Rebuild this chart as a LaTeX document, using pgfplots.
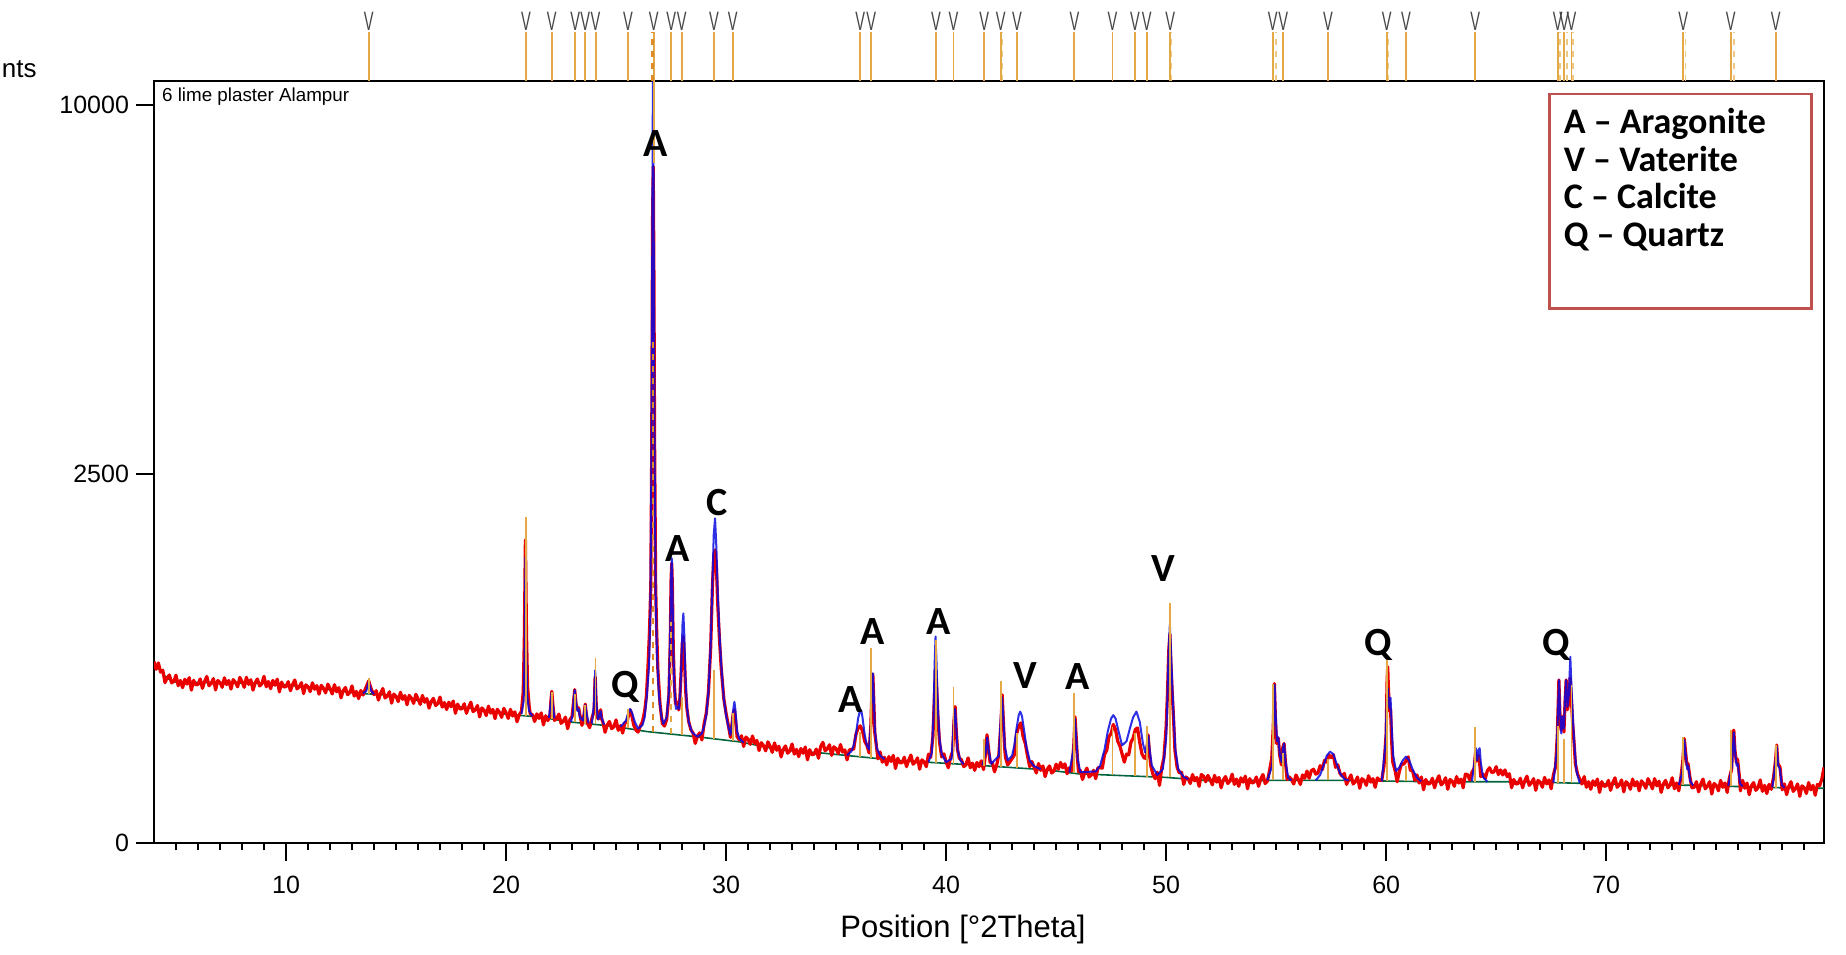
\documentclass[border=0pt]{standalone}
\usepackage{pgfplots}
\pgfplotsset{compat=1.18}
\usepackage{fontspec}
\setmainfont{Liberation Sans}
\newfontfamily\calib{Carlito}

\definecolor{obsred}{RGB}{235,0,0}
\definecolor{calcblue}{RGB}{10,10,225}
\definecolor{bggreen}{RGB}{0,100,60}
\definecolor{stickc}{RGB}{228,168,70}
\definecolor{stickd}{RGB}{222,140,40}
\definecolor{stickl}{RGB}{238,200,130}
\definecolor{legred}{RGB}{192,80,77}
\definecolor{vgray}{RGB}{70,70,70}

% one reference stick from the background (#2) up to its intensity (#3)
\newcommand{\stick}[3]{\addplot[stickc, line width=0.9pt, forget plot] coordinates {(#1,#2) (#1,#3)};}
% one segment of the calculated profile
\newcommand{\calcseg}[1]{\addplot[calcblue, opacity=0.85, line width=1pt, line join=round, forget plot] coordinates {#1};}

\tikzset{pk/.style={font=\calib\bfseries\fontsize{20}{22}\selectfont, inner sep=0pt}}

\begin{document}
\begin{tikzpicture}
\useasboundingbox (0,0) rectangle (923pt,477pt);
\clip (0,0) rectangle (923pt,477pt);

\node[anchor=base east, inner sep=0pt, font=\fontsize{13}{15}\selectfont] at (18.5pt,438pt) {Counts};

\begin{axis}[
  at={(77pt,55.5pt)}, anchor=south west,
  scale only axis, width=835pt, height=381pt,
  xmin=4, xmax=79.9, ymin=0, ymax=10660,
  y coord trafo/.code={\pgfmathparse{sqrt(#1)}},
  y coord inv trafo/.code={\pgfmathparse{(#1)*(#1)}},
  xtick={10,20,30,40,50,60,70},
  minor xtick={5,6,...,79},
  ytick={0,2500,10000},
  yticklabels={0,2500,10000},
  xtick pos=bottom, ytick pos=left,
  tick align=outside,
  major tick length=9pt, minor tick length=3.5pt,
  every tick/.style={black, line width=1pt},
  axis line style={line width=1.35pt},
  tick label style={font=\fontsize{12.5}{14}\selectfont},
  xticklabel style={yshift=-4pt},
  /pgf/number format/assume math mode=true,
  xlabel={Position [°2Theta]},
  xlabel style={font=\fontsize{15.5}{18}\selectfont, at={(axis description cs:0.4844,0)}, anchor=base, yshift=-47.3pt},
]
% background
\addplot[bggreen, line width=0.8pt] coordinates {
(4,590)(4.3,543)(4.6,497)(5,475)(9.4,467)(11.4,441)(13.2,412)(14.4,404)(15.9,376)(17.4,350)(18.9,324)(20.1,303)(21.5,292)(22.9,269)(24.9,250)(26.4,228)(28.7,207)(30.6,188)(32.5,159)(34.3,149)(37.8,125)(41.2,112)(44.6,98)(46,88)(50,79)(52,71)(55,72)(58,72)(62,69)(66,69)(70,64)(74,61)(78,56)(79.9,55)};
% measured pattern
\addplot[obsred, line width=1.6pt, line join=round] coordinates {
(4.0,604)(4.1,554)(4.2,595)(4.3,536)(4.4,548)(4.5,472)(4.6,501)(4.7,518)(4.8,471)(4.9,479)
(5.0,517)(5.1,454)(5.2,485)(5.3,443)(5.4,492)(5.5,464)(5.6,502)(5.7,429)(5.8,486)(5.9,460)
(6.0,461)(6.1,494)(6.2,439)(6.3,479)(6.4,509)(6.5,454)(6.6,468)(6.7,496)(6.8,430)(6.9,485)
(7.0,473)(7.1,445)(7.2,501)(7.3,461)(7.4,485)(7.5,435)(7.6,490)(7.7,474)(7.8,448)(7.9,503)
(8.0,478)(8.1,445)(8.2,504)(8.3,462)(8.4,489)(8.5,429)(8.6,472)(8.7,494)(8.8,453)(8.9,466)
(9.0,510)(9.1,448)(9.2,479)(9.3,437)(9.4,485)(9.5,457)(9.6,493)(9.7,419)(9.8,475)(9.9,447)
(10.0,449)(10.1,478)(10.2,426)(10.3,461)(10.4,488)(10.5,436)(10.6,447)(10.7,472)(10.8,410)(10.9,459)
(11.0,448)(11.1,421)(11.2,471)(11.3,434)(11.4,455)(11.5,407)(11.6,456)(11.7,440)(11.8,414)(11.9,463)
(12.0,439)(12.1,408)(12.2,460)(12.3,420)(12.4,443)(12.5,387)(12.6,426)(12.7,444)(12.8,404)(12.9,415)
(13.0,453)(13.1,396)(13.2,422)(13.3,383)(13.4,427)(13.5,402)(13.6,434)(13.7,464)(13.76,483)(13.8,463)(13.9,427)
(14.0,404)(14.1,426)(14.2,375)(14.3,411)(14.4,438)(14.5,386)(14.6,396)(14.7,420)(14.8,359)(14.9,407)
(15.0,395)(15.1,367)(15.2,417)(15.3,379)(15.4,399)(15.5,351)(15.6,400)(15.7,384)(15.8,358)(15.9,406)
(16.0,381)(16.1,353)(16.2,400)(16.3,364)(16.4,383)(16.5,334)(16.6,368)(16.7,384)(16.8,347)(16.9,357)
(17.0,391)(17.1,339)(17.2,362)(17.3,327)(17.4,364)(17.5,341)(17.6,370)(17.7,309)(17.8,354)(17.9,330)
(18.0,331)(18.1,356)(18.2,309)(18.3,339)(18.4,364)(18.5,317)(18.6,325)(18.7,347)(18.8,292)(18.9,335)
(19.0,324)(19.1,298)(19.2,344)(19.3,310)(19.4,328)(19.5,284)(19.6,328)(19.7,314)(19.8,290)(19.9,333)
(20.0,312)(20.1,285)(20.2,328)(20.3,296)(20.4,316)(20.5,270)(20.6,302)(20.7,318)(20.78,418)(20.83,748)(20.88,1687)(20.93,797)(20.98,447)
(21.05,346)(21.1,305)(21.2,303)(21.3,271)(21.4,306)(21.5,285)(21.6,311)(21.7,256)(21.8,297)(21.9,275)
(22.0,301)(22.04,372)(22.08,422)(22.12,362)(22.2,276)(22.3,284)(22.4,305)(22.5,263)(22.6,271)(22.7,291)(22.8,240)(22.9,279)
(23.0,293)(23.07,367)(23.12,432)(23.18,356)(23.25,326)(23.3,335)(23.36,299)(23.45,254)(23.55,307)(23.6,354)(23.65,302)(23.7,264)(23.8,244)(23.9,285)
(24.0,319)(24.05,506)(24.1,348)(24.15,288)(24.2,283)(24.3,326)(24.35,281)(24.4,269)(24.5,225)(24.6,256)(24.7,271)(24.8,240)(24.9,248)
(25.0,278)(25.1,233)(25.2,253)(25.3,222)(25.4,265)(25.5,270)(25.6,314)(25.65,324)(25.7,308)(25.8,256)(25.9,235)
(26.0,226)(26.1,250)(26.2,271)(26.3,319)(26.38,398)(26.45,568)(26.52,827)(26.58,1226)(26.62,2826)(26.66,7200)(26.69,8400)(26.72,6000)(26.75,3000)(26.8,1200)(26.85,800)(26.9,553)
(27.0,352)(27.1,263)(27.2,251)(27.3,280)(27.4,399)(27.46,719)(27.5,1268)(27.53,1436)(27.56,1218)(27.6,697)(27.65,467)(27.7,356)(27.78,365)(27.85,325)(27.9,384)(27.96,544)
(28.01,733)(28.06,782)(28.11,613)(28.16,432)(28.22,332)(28.3,271)(28.4,236)(28.5,222)(28.6,182)(28.7,210)(28.8,223)(28.9,195)
(29.0,260)(29.1,309)(29.2,420)(29.3,700)(29.38,1211)(29.44,1500)(29.5,1576)(29.56,1400)(29.62,1050)(29.7,760)(29.78,560)(29.9,380)
(30.0,309)(30.1,255)(30.2,205)(30.26,252)(30.33,311)(30.38,326)(30.43,280)(30.5,208)(30.6,195)(30.7,211)(30.8,171)(30.9,206)
(31.0,198)(31.1,179)(31.2,210)(31.3,182)(31.4,193)(31.5,157)(31.6,185)(31.7,174)(31.8,156)(31.9,188)
(32.0,172)(32.1,151)(32.2,184)(32.3,158)(32.4,172)(32.5,136)(32.6,161)(32.7,173)(32.8,148)(32.9,156)
(33.0,180)(33.1,145)(33.2,161)(33.3,137)(33.4,164)(33.5,148)(33.6,169)(33.7,127)(33.8,160)(33.9,143)
(34.0,145)(34.1,162)(34.2,132)(34.3,171)(34.4,186)(34.5,156)(34.6,163)(34.7,177)(34.8,141)(34.9,170)
(35.0,163)(35.1,147)(35.2,178)(35.3,152)(35.4,159)(35.5,127)(35.6,159)(35.7,161)(35.8,162)(35.9,216)
(36.0,242)(36.1,252)(36.2,231)(36.3,190)(36.4,175)(36.5,149)(36.58,254)(36.63,433)(36.67,523)(36.71,383)(36.76,222)(36.85,162)(36.9,130)
(37.0,152)(37.1,120)(37.2,135)(37.3,112)(37.4,137)(37.5,122)(37.6,141)(37.7,102)(37.8,132)(37.9,118)
(38.0,118)(38.1,135)(38.2,107)(38.3,126)(38.4,142)(38.5,114)(38.6,120)(38.7,133)(38.8,100)(38.9,127)
(39.0,121)(39.1,107)(39.2,145)(39.3,135)(39.4,208)(39.46,368)(39.52,558)(39.57,448)(39.63,288)(39.7,187)(39.8,136)(39.9,146)
(40.0,121)(40.1,104)(40.2,133)(40.3,156)(40.36,275)(40.41,342)(40.46,235)(40.52,160)(40.6,132)(40.7,127)(40.8,107)(40.9,112)
(41.0,133)(41.1,104)(41.2,117)(41.3,97)(41.4,119)(41.5,107)(41.6,124)(41.7,99)(41.8,150)(41.86,215)(41.92,169)
(42.0,119)(42.1,119)(42.2,93)(42.3,111)(42.4,145)(42.5,277)(42.55,403)(42.6,277)(42.66,166)(42.7,134)(42.8,112)(42.9,121)
(43.0,131)(43.1,142)(43.2,218)(43.3,250)(43.4,265)(43.5,207)(43.6,182)(43.7,139)(43.8,107)(43.9,122)
(44.0,105)(44.1,90)(44.2,116)(44.3,97)(44.4,109)(44.5,81)(44.6,100)(44.7,109)(44.8,90)(44.9,95)
(45.0,114)(45.1,100)(45.2,119)(45.3,104)(45.4,115)(45.5,88)(45.6,104)(45.7,95)(45.8,170)(45.86,292)(45.91,209)(45.97,129)
(46.02,93)(46.1,97)(46.2,74)(46.3,91)(46.4,103)(46.5,80)(46.6,85)(46.7,97)(46.8,76)(46.9,104)
(47.0,104)(47.1,103)(47.2,144)(47.3,157)(47.4,207)(47.5,220)(47.6,258)(47.7,237)(47.8,190)(47.9,173)
(48.0,145)(48.1,120)(48.2,145)(48.3,143)(48.4,186)(48.5,202)(48.6,237)(48.7,243)(48.8,186)(48.9,146)
(49.0,133)(49.1,131)(49.18,215)(49.24,151)(49.3,110)(49.4,87)(49.5,76)(49.6,92)(49.7,61)(49.8,104)(49.9,134)
(50.0,249)(50.06,409)(50.12,679)(50.17,800)(50.22,579)(50.28,408)(50.34,278)(50.4,157)(50.5,105)(50.6,90)(50.7,92)(50.8,63)(50.9,80)
(51.0,76)(51.1,65)(51.2,86)(51.3,71)(51.4,79)(51.5,59)(51.6,86)(51.7,82)(51.8,69)(51.9,84)
(52.0,74)(52.1,62)(52.2,84)(52.3,68)(52.4,79)(52.5,56)(52.6,73)(52.7,81)(52.8,65)(52.9,70)
(53.0,87)(53.1,63)(53.2,75)(53.3,59)(53.4,78)(53.5,68)(53.6,82)(53.7,54)(53.8,76)(53.9,66)
(54.0,68)(54.1,80)(54.2,59)(54.3,75)(54.4,86)(54.5,65)(54.6,70)(54.7,96)(54.8,132)(54.87,252)(54.92,467)(54.97,272)
(55.02,182)(55.1,202)(55.16,142)(55.24,112)(55.3,167)(55.36,182)(55.42,122)(55.5,74)(55.6,80)(55.7,74)(55.8,64)(55.9,85)
(56.0,75)(56.1,63)(56.2,85)(56.3,77)(56.4,95)(56.5,77)(56.6,96)(56.7,100)(56.8,87)(56.9,90)
(57.0,110)(57.1,99)(57.2,126)(57.3,120)(57.4,142)(57.5,134)(57.6,143)(57.7,105)(57.8,112)(57.9,89)
(58.0,82)(58.1,89)(58.2,63)(58.3,74)(58.4,85)(58.5,64)(58.6,69)(58.7,80)(58.8,55)(58.9,76)
(59.0,72)(59.1,61)(59.2,83)(59.3,68)(59.4,76)(59.5,57)(59.6,78)(59.7,72)(59.8,72)(59.9,108)
(60.0,220)(60.04,470)(60.07,571)(60.1,450)(60.15,320)(60.2,330)(60.25,190)(60.3,120)(60.4,98)(60.5,69)(60.6,94)(60.7,115)(60.8,114)(60.9,124)
(61.0,136)(61.1,97)(61.2,96)(61.3,72)(61.4,85)(61.5,66)(61.6,80)(61.7,52)(61.8,74)(61.9,64)
(62.0,65)(62.1,77)(62.2,56)(62.3,72)(62.4,83)(62.5,62)(62.6,67)(62.7,78)(62.8,53)(62.9,74)
(63.0,70)(63.1,59)(63.2,81)(63.3,66)(63.4,75)(63.5,56)(63.6,87)(63.7,86)(63.8,73)(63.9,92)
(64.0,102)(64.06,150)(64.12,124)(64.2,140)(64.26,109)(64.3,81)(64.4,87)(64.5,76)(64.6,96)(64.7,104)(64.8,91)(64.9,93)
(65.0,107)(65.1,86)(65.2,98)(65.3,85)(65.4,98)(65.5,81)(65.6,88)(65.7,56)(65.8,74)(65.9,64)
(66.0,65)(66.1,77)(66.2,56)(66.3,71)(66.4,82)(66.5,61)(66.6,66)(66.7,76)(66.8,51)(66.9,72)
(67.0,68)(67.1,57)(67.2,79)(67.3,64)(67.4,73)(67.5,54)(67.6,85)(67.7,107)(67.78,217)(67.85,488)(67.9,297)(67.96,236)
(68.02,293)(68.08,226)(68.13,366)(68.18,488)(68.24,326)(68.3,366)(68.36,500)(68.42,376)(68.48,256)(68.54,186)(68.6,115)(68.7,87)(68.8,75)(68.9,64)
(69.0,81)(69.1,57)(69.2,69)(69.3,53)(69.4,71)(69.5,61)(69.6,75)(69.7,47)(69.8,69)(69.9,59)
(70.0,60)(70.1,72)(70.2,51)(70.3,67)(70.4,78)(70.5,57)(70.6,62)(70.7,73)(70.8,48)(70.9,69)
(71.0,64)(71.1,53)(71.2,75)(71.3,60)(71.4,69)(71.5,50)(71.6,71)(71.7,65)(71.8,55)(71.9,76)
(72.0,66)(72.1,54)(72.2,76)(72.3,60)(72.4,70)(72.5,47)(72.6,64)(72.7,72)(72.8,56)(72.9,61)
(73.0,78)(73.1,54)(73.2,66)(73.3,50)(73.4,82)(73.48,122)(73.55,200)(73.61,151)(73.67,111)(73.72,116)(73.8,81)(73.9,56)
(74.0,57)(74.1,69)(74.2,48)(74.3,64)(74.4,75)(74.5,54)(74.6,59)(74.7,69)(74.8,44)(74.9,65)
(75.0,61)(75.1,50)(75.2,72)(75.3,57)(75.4,66)(75.5,47)(75.6,78)(75.7,99)(75.76,209)(75.8,234)(75.85,159)(75.92,119)(75.97,129)
(76.05,84)(76.1,50)(76.2,72)(76.3,55)(76.4,66)(76.5,43)(76.6,60)(76.7,67)(76.8,51)(76.9,56)
(77.0,73)(77.1,49)(77.2,61)(77.3,45)(77.4,63)(77.5,53)(77.6,77)(77.7,126)(77.75,176)(77.8,116)(77.9,106)(77.96,71)
(78.0,52)(78.1,64)(78.2,43)(78.3,59)(78.4,69)(78.5,49)(78.6,54)(78.7,64)(78.8,40)(78.9,60)
(79.0,56)(79.1,45)(79.2,67)(79.3,52)(79.4,61)(79.5,42)(79.6,63)(79.7,60)(79.8,75)(79.9,105)
};
% calculated profile
\calcseg{(13.5,410)(13.65,425)(13.76,478)(13.87,425)(14.0,407)}
\calcseg{(20.7,305)(20.8,370)(20.85,700)(20.88,1500)(20.91,750)(20.96,400)(21.05,320)(21.2,295)}
\calcseg{(21.95,287)(22.03,360)(22.07,415)(22.11,360)(22.2,285)}
\calcseg{(22.95,269)(23.02,300)(23.08,380)(23.12,430)(23.17,370)(23.25,320)(23.3,330)(23.36,290)(23.5,275)(23.56,320)(23.6,350)(23.64,320)(23.75,263)}
\calcseg{(23.9,262)(24.0,360)(24.05,548)(24.1,360)(24.18,280)(24.26,300)(24.3,320)(24.34,290)(24.45,257)}
\calcseg{(25.2,248)(25.45,275)(25.55,310)(25.64,330)(25.73,310)(25.85,270)(26.0,240)(26.2,255)(26.3,290)(26.4,400)(26.5,580)(26.56,1000)(26.61,2800)(26.65,7000)(26.68,12000)(26.71,7000)(26.75,2800)(26.8,1150)(26.86,650)(26.95,400)(27.05,300)(27.15,260)(27.3,290)(27.4,420)(27.46,800)(27.5,1300)(27.53,1489)(27.56,1250)(27.6,700)(27.65,450)(27.72,330)(27.78,340)(27.85,330)(27.92,420)(27.98,640)(28.02,880)(28.06,968)(28.1,800)(28.15,520)(28.22,340)(28.3,270)(28.45,225)(28.7,207)(28.9,220)(29.0,250)(29.1,300)(29.2,420)(29.3,720)(29.38,1250)(29.44,1750)(29.5,1935)(29.56,1600)(29.62,1150)(29.7,800)(29.78,580)(29.9,380)(30.0,300)(30.1,250)(30.2,215)(30.28,270)(30.34,340)(30.38,366)(30.42,330)(30.5,230)(30.6,200)(30.8,185)}
\calcseg{(35.5,141)(35.7,155)(35.8,175)(35.9,215)(36.0,285)(36.08,320)(36.14,324)(36.2,290)(36.3,215)(36.4,175)(36.5,160)(36.58,260)(36.63,450)(36.67,529)(36.71,400)(36.76,240)(36.85,165)(37.0,140)(37.2,129)}
\calcseg{(39.2,120)(39.35,150)(39.43,300)(39.48,600)(39.52,783)(39.56,620)(39.62,350)(39.7,200)(39.8,145)(40.0,120)(40.25,130)(40.32,220)(40.37,300)(40.41,330)(40.46,250)(40.52,160)(40.65,125)(40.8,114)}
\calcseg{(41.65,111)(41.8,150)(41.87,205)(41.93,160)(42.05,115)(42.4,140)(42.48,280)(42.54,390)(42.6,290)(42.67,170)(42.8,125)(43.0,140)(43.1,175)(43.2,240)(43.3,300)(43.37,317)(43.45,295)(43.55,230)(43.65,170)(43.8,125)(44.0,108)(44.3,100)}
\calcseg{(45.6,91)(45.79,160)(45.85,285)(45.91,210)(45.98,130)(46.1,92)(46.8,94)(47.0,110)(47.2,160)(47.35,230)(47.5,285)(47.6,300)(47.7,285)(47.85,225)(48.0,175)(48.2,190)(48.35,240)(48.5,290)(48.65,317)(48.8,270)(48.95,180)(49.05,150)(49.13,180)(49.19,210)(49.25,160)(49.35,110)(49.6,85)(49.85,100)(50.0,200)(50.06,400)(50.12,700)(50.17,880)(50.22,680)(50.28,450)(50.34,300)(50.42,160)(50.55,100)(50.8,80)(51.0,75)}
\calcseg{(54.6,72)(54.82,110)(54.88,250)(54.93,460)(54.98,300)(55.04,190)(55.1,205)(55.17,140)(55.25,120)(55.3,160)(55.36,182)(55.43,120)(55.55,78)(55.7,72)}
\calcseg{(56.8,72)(57.0,85)(57.15,110)(57.3,140)(57.45,153)(57.6,145)(57.75,115)(57.9,90)(58.1,75)(58.3,72)}
\calcseg{(59.8,70)(59.97,180)(60.03,380)(60.07,441)(60.11,370)(60.16,330)(60.2,388)(60.25,250)(60.32,140)(60.45,95)(60.6,105)(60.75,125)(60.9,137)(61.05,125)(61.2,100)(61.4,78)(61.6,70)}
\calcseg{(63.9,70)(64.03,130)(64.08,165)(64.14,125)(64.2,160)(64.25,165)(64.3,120)(64.4,80)(64.6,69)}
\calcseg{(67.6,67)(67.75,150)(67.82,350)(67.86,488)(67.9,320)(67.96,220)(68.02,293)(68.08,240)(68.13,380)(68.18,488)(68.24,340)(68.3,400)(68.37,637)(68.43,420)(68.49,280)(68.55,180)(68.65,95)(68.8,66)}
\calcseg{(73.3,62)(73.45,90)(73.55,195)(73.62,140)(73.68,100)(73.73,110)(73.82,70)(73.95,61)}
\calcseg{(75.55,60)(75.72,110)(75.8,225)(75.86,150)(75.93,110)(75.98,115)(76.08,65)(76.2,59)}
\calcseg{(77.55,57)(77.68,110)(77.75,170)(77.82,110)(77.9,100)(77.98,62)(78.1,56)}
% reference sticks (vaterite)
\stick{13.76}{408}{497}
\stick{20.91}{297}{1954}
\stick{22.08}{282}{420}
\stick{23.15}{267}{410}
\stick{23.60}{262}{350}
\stick{24.07}{259}{625}
\stick{25.54}{241}{330}
\stick{26.71}{8500}{10660}
\stick{27.98}{214}{393}
\stick{29.45}{200}{550}
\stick{30.30}{191}{310}
\stick{36.10}{137}{225}
\stick{36.60}{133}{697}
\stick{39.54}{118}{760}
\stick{40.34}{115}{449}
\stick{41.73}{110}{200}
\stick{42.48}{107}{484}
\stick{43.22}{104}{222}
\stick{45.83}{89}{412}
\stick{47.56}{85}{248}
\stick{48.58}{83}{222}
\stick{49.12}{81}{250}
\stick{50.19}{79}{1054}
\stick{54.85}{72}{467}
\stick{55.32}{72}{150}
\stick{57.36}{72}{130}
\stick{60.03}{70}{637}
\stick{60.90}{70}{110}
\stick{64.05}{69}{248}
\stick{67.80}{67}{250}
\stick{68.09}{66}{200}
\stick{68.42}{66}{458}
\stick{73.50}{62}{207}
\stick{75.66}{60}{234}
\stick{77.71}{56}{176}
\addplot[stickc, dashed, line width=0.9pt, forget plot] coordinates {(27.51,218) (27.51,900)};
\addplot[stickd, dashed, line width=1pt, forget plot] coordinates {(26.68,225) (26.68,4600)};
% phase labels
\node[pk] at (axis cs:26.81,8987) {A};
\node[pk] at (axis cs:25.41,445) {Q};
\node[pk] at (axis cs:27.82,1592) {A};
\node[pk] at (axis cs:29.59,2125) {C};
\node[pk] at (axis cs:35.64,380) {A};
\node[pk] at (axis cs:36.65,824) {A};
\node[pk] at (axis cs:39.65,900) {A};
\node[pk] at (axis cs:43.61,515) {V};
\node[pk] at (axis cs:45.96,506) {A};
\node[pk] at (axis cs:49.87,1384) {V};
\node[pk] at (axis cs:59.64,718) {Q};
\node[pk] at (axis cs:67.75,718) {Q};
\node[anchor=north west, inner sep=0pt, font=\fontsize{9.4}{11}\selectfont, xshift=3.85pt, yshift=-3pt] at (rel axis cs:0,1) {6 lime plaster Alampur};
\end{axis}

% reference pattern markers above the frame
\begin{axis}[
  at={(77pt,436.5pt)}, anchor=south west,
  scale only axis, width=835pt, height=24.7pt,
  xmin=4, xmax=79.9, ymin=0, ymax=1,
  hide axis, clip=false,
]
\addplot[stickl, dashed, line width=0.8pt, ycomb, mark=none] coordinates {
(42.55,1)(50.23,1)(55.0,1)(60.08,1)(67.9,1)(68.22,1)(68.5,1)(73.6,1)(75.8,1)};
\addplot[stickc, line width=0.9pt, ycomb, mark=none,
  nodes near coords={V},
  every node near coord/.style={anchor=south, inner sep=0pt, font=\fontsize{13.3}{14}\selectfont, text=vgray, xscale=0.55}]
coordinates {
(13.76,1)(20.91,1)(22.08,1)(23.15,1)(23.60,1)(24.07,1)(25.54,1)(26.71,1)(27.51,1)(27.98,1)
(29.45,1)(30.30,1)(36.10,1)(36.60,1)(39.54,1)(40.34,1)(41.73,1)(42.48,1)(43.22,1)(45.83,1)
(47.56,1)(48.58,1)(49.12,1)(50.19,1)(54.85,1)(55.32,1)(57.36,1)(60.03,1)(60.90,1)(64.05,1)
(67.80,1)(68.09,1)(68.42,1)(73.50,1)(75.66,1)(77.71,1)};
\addplot[stickd, dashed, line width=1.2pt, ycomb, mark=none] coordinates {(26.66,1)};
\end{axis}

% phase key
\draw[legred, line width=1.4pt] (774.6pt,322.7pt) rectangle (905.6pt,430pt);
\begin{scope}[every node/.style={anchor=base west, inner sep=0pt, font=\calib\bfseries\fontsize{18}{20}\selectfont}]
\node at (781.7pt,410pt) {A – Aragonite};
\node at (781.7pt,391.3pt) {V – Vaterite};
\node at (781.7pt,372.6pt) {C – Calcite};
\node at (781.7pt,353.9pt) {Q – Quartz};
\end{scope}
\end{tikzpicture}
\end{document}
